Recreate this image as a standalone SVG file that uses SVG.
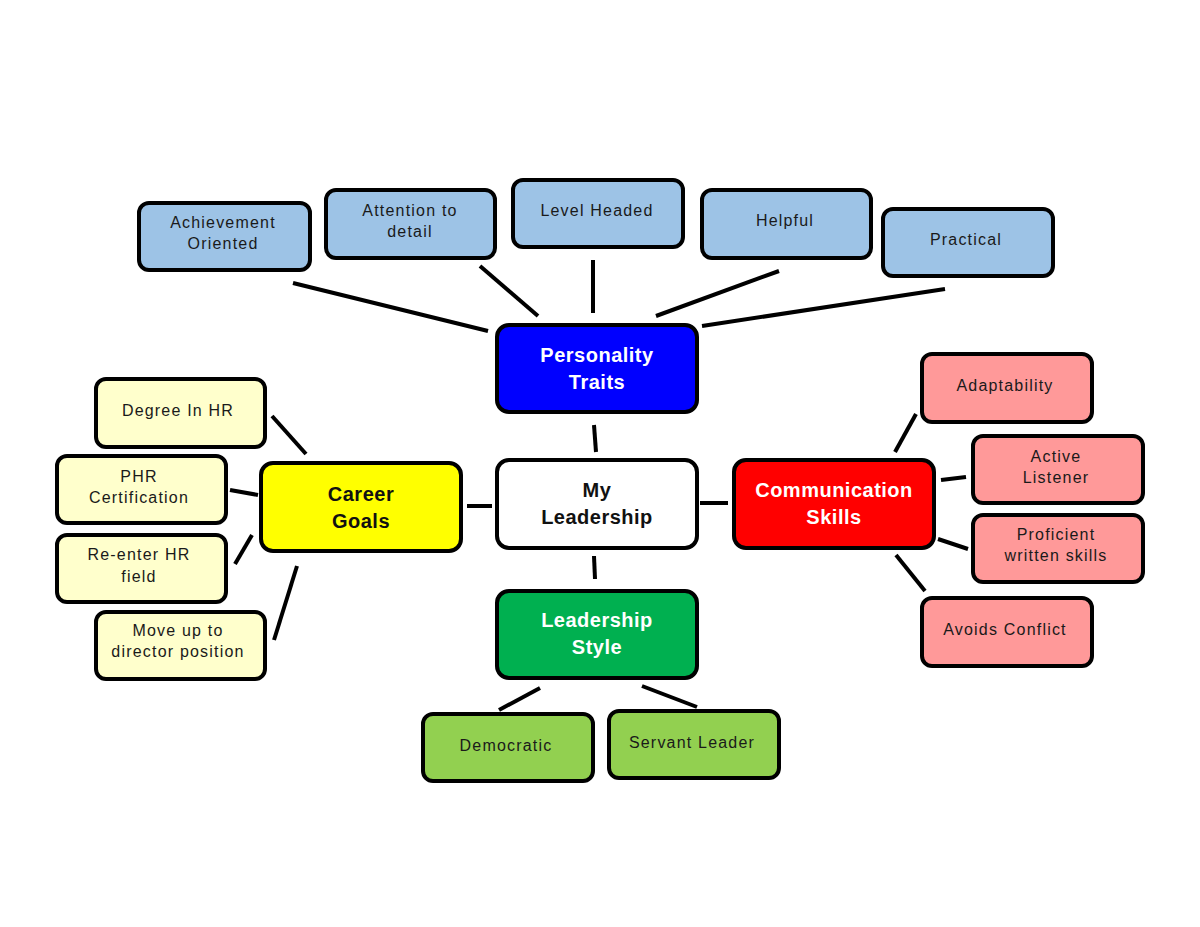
<svg xmlns="http://www.w3.org/2000/svg" width="1200" height="927" viewBox="0 0 1200 927">
<style>
.box{stroke:#000;stroke-width:4}
.main{stroke:#000;stroke-width:4}
.t{font-family:"Liberation Sans",Arial,sans-serif;font-size:16px;letter-spacing:1.2px;fill:#1a1a1a;text-anchor:middle}
.m{font-family:"Liberation Sans",Arial,sans-serif;font-size:20px;font-weight:bold;letter-spacing:0.5px;text-anchor:middle}
.blue{fill:#9DC3E6}.yel{fill:#FFFFCC}.pink{fill:#FF9999}.lg{fill:#92D050}
#connectors line{stroke:#000;stroke-width:4}
</style>
<rect width="1200" height="927" fill="#fff"/>
<g id="connectors">
<line x1="293" y1="283" x2="488" y2="331"/>
<line x1="480" y1="266" x2="538" y2="316"/>
<line x1="593" y1="260" x2="593" y2="313"/>
<line x1="656" y1="316" x2="779" y2="271"/>
<line x1="702" y1="326" x2="945" y2="289"/>
<line x1="594" y1="425" x2="596" y2="452"/>
<line x1="467" y1="506" x2="492" y2="506"/>
<line x1="700" y1="503" x2="728" y2="503"/>
<line x1="594" y1="556" x2="595" y2="579"/>
<line x1="272" y1="416" x2="306" y2="454"/>
<line x1="230" y1="490" x2="258" y2="495"/>
<line x1="235" y1="564" x2="252" y2="535"/>
<line x1="274" y1="640" x2="297" y2="566"/>
<line x1="895" y1="452" x2="916" y2="414"/>
<line x1="941" y1="480" x2="966" y2="477"/>
<line x1="938" y1="539" x2="968" y2="549"/>
<line x1="896" y1="555" x2="925" y2="591"/>
<line x1="499" y1="710" x2="540" y2="688"/>
<line x1="642" y1="686" x2="697" y2="707"/>
</g>
<g id="n-achievement"><rect class="box blue" x="139" y="203" width="171" height="67" rx="10"/><text class="t" x="223" y="228">Achievement</text><text class="t" x="223" y="249">Oriented</text></g>
<g id="n-attention"><rect class="box blue" x="326" y="190" width="169" height="68" rx="10"/><text class="t" x="410" y="216">Attention to</text><text class="t" x="410" y="237">detail</text></g>
<g id="n-level"><rect class="box blue" x="513" y="180" width="170" height="67" rx="10"/><text class="t" x="597" y="216">Level Headed</text></g>
<g id="n-helpful"><rect class="box blue" x="702" y="190" width="169" height="68" rx="10"/><text class="t" x="785" y="226">Helpful</text></g>
<g id="n-practical"><rect class="box blue" x="883" y="209" width="170" height="67" rx="10"/><text class="t" x="966" y="245">Practical</text></g>
<g id="n-personality"><rect class="main" fill="#0000FF" x="497" y="325" width="200" height="87" rx="12"/><text class="m" fill="#fff" x="597" y="362">Personality</text><text class="m" fill="#fff" x="597" y="389">Traits</text></g>
<g id="n-my"><rect class="main" fill="#fff" x="497" y="460" width="200" height="88" rx="12"/><text class="m" fill="#111" x="597" y="497">My</text><text class="m" fill="#111" x="597" y="524">Leadership</text></g>
<g id="n-career"><rect class="main" fill="#FFFF00" x="261" y="463" width="200" height="88" rx="12"/><text class="m" fill="#111" x="361" y="501">Career</text><text class="m" fill="#111" x="361" y="528">Goals</text></g>
<g id="n-comm"><rect class="main" fill="#FF0000" x="734" y="460" width="200" height="88" rx="12"/><text class="m" fill="#fff" x="834" y="497">Communication</text><text class="m" fill="#fff" x="834" y="524">Skills</text></g>
<g id="n-style"><rect class="main" fill="#00B050" x="497" y="591" width="200" height="87" rx="12"/><text class="m" fill="#fff" x="597" y="627">Leadership</text><text class="m" fill="#fff" x="597" y="654">Style</text></g>
<g id="n-degree"><rect class="box yel" x="96" y="379" width="169" height="68" rx="10"/><text class="t" x="178" y="416">Degree In HR</text></g>
<g id="n-phr"><rect class="box yel" x="57" y="456" width="169" height="67" rx="10"/><text class="t" x="139" y="482">PHR</text><text class="t" x="139" y="503">Certification</text></g>
<g id="n-reenter"><rect class="box yel" x="57" y="535" width="169" height="67" rx="10"/><text class="t" x="139" y="560">Re-enter HR</text><text class="t" x="139" y="582">field</text></g>
<g id="n-move"><rect class="box yel" x="96" y="612" width="169" height="67" rx="10"/><text class="t" x="178" y="636">Move up to</text><text class="t" x="178" y="657">director position</text></g>
<g id="n-adapt"><rect class="box pink" x="922" y="354" width="170" height="68" rx="10"/><text class="t" x="1005" y="391">Adaptability</text></g>
<g id="n-active"><rect class="box pink" x="973" y="436" width="170" height="67" rx="10"/><text class="t" x="1056" y="462">Active</text><text class="t" x="1056" y="483">Listener</text></g>
<g id="n-proficient"><rect class="box pink" x="973" y="515" width="170" height="67" rx="10"/><text class="t" x="1056" y="540">Proficient</text><text class="t" x="1056" y="561">written skills</text></g>
<g id="n-avoids"><rect class="box pink" x="922" y="598" width="170" height="68" rx="10"/><text class="t" x="1005" y="635">Avoids Conflict</text></g>
<g id="n-democratic"><rect class="box lg" x="423" y="714" width="170" height="67" rx="10"/><text class="t" x="506" y="751">Democratic</text></g>
<g id="n-servant"><rect class="box lg" x="609" y="711" width="170" height="67" rx="10"/><text class="t" x="692" y="748">Servant Leader</text></g>
</svg>
